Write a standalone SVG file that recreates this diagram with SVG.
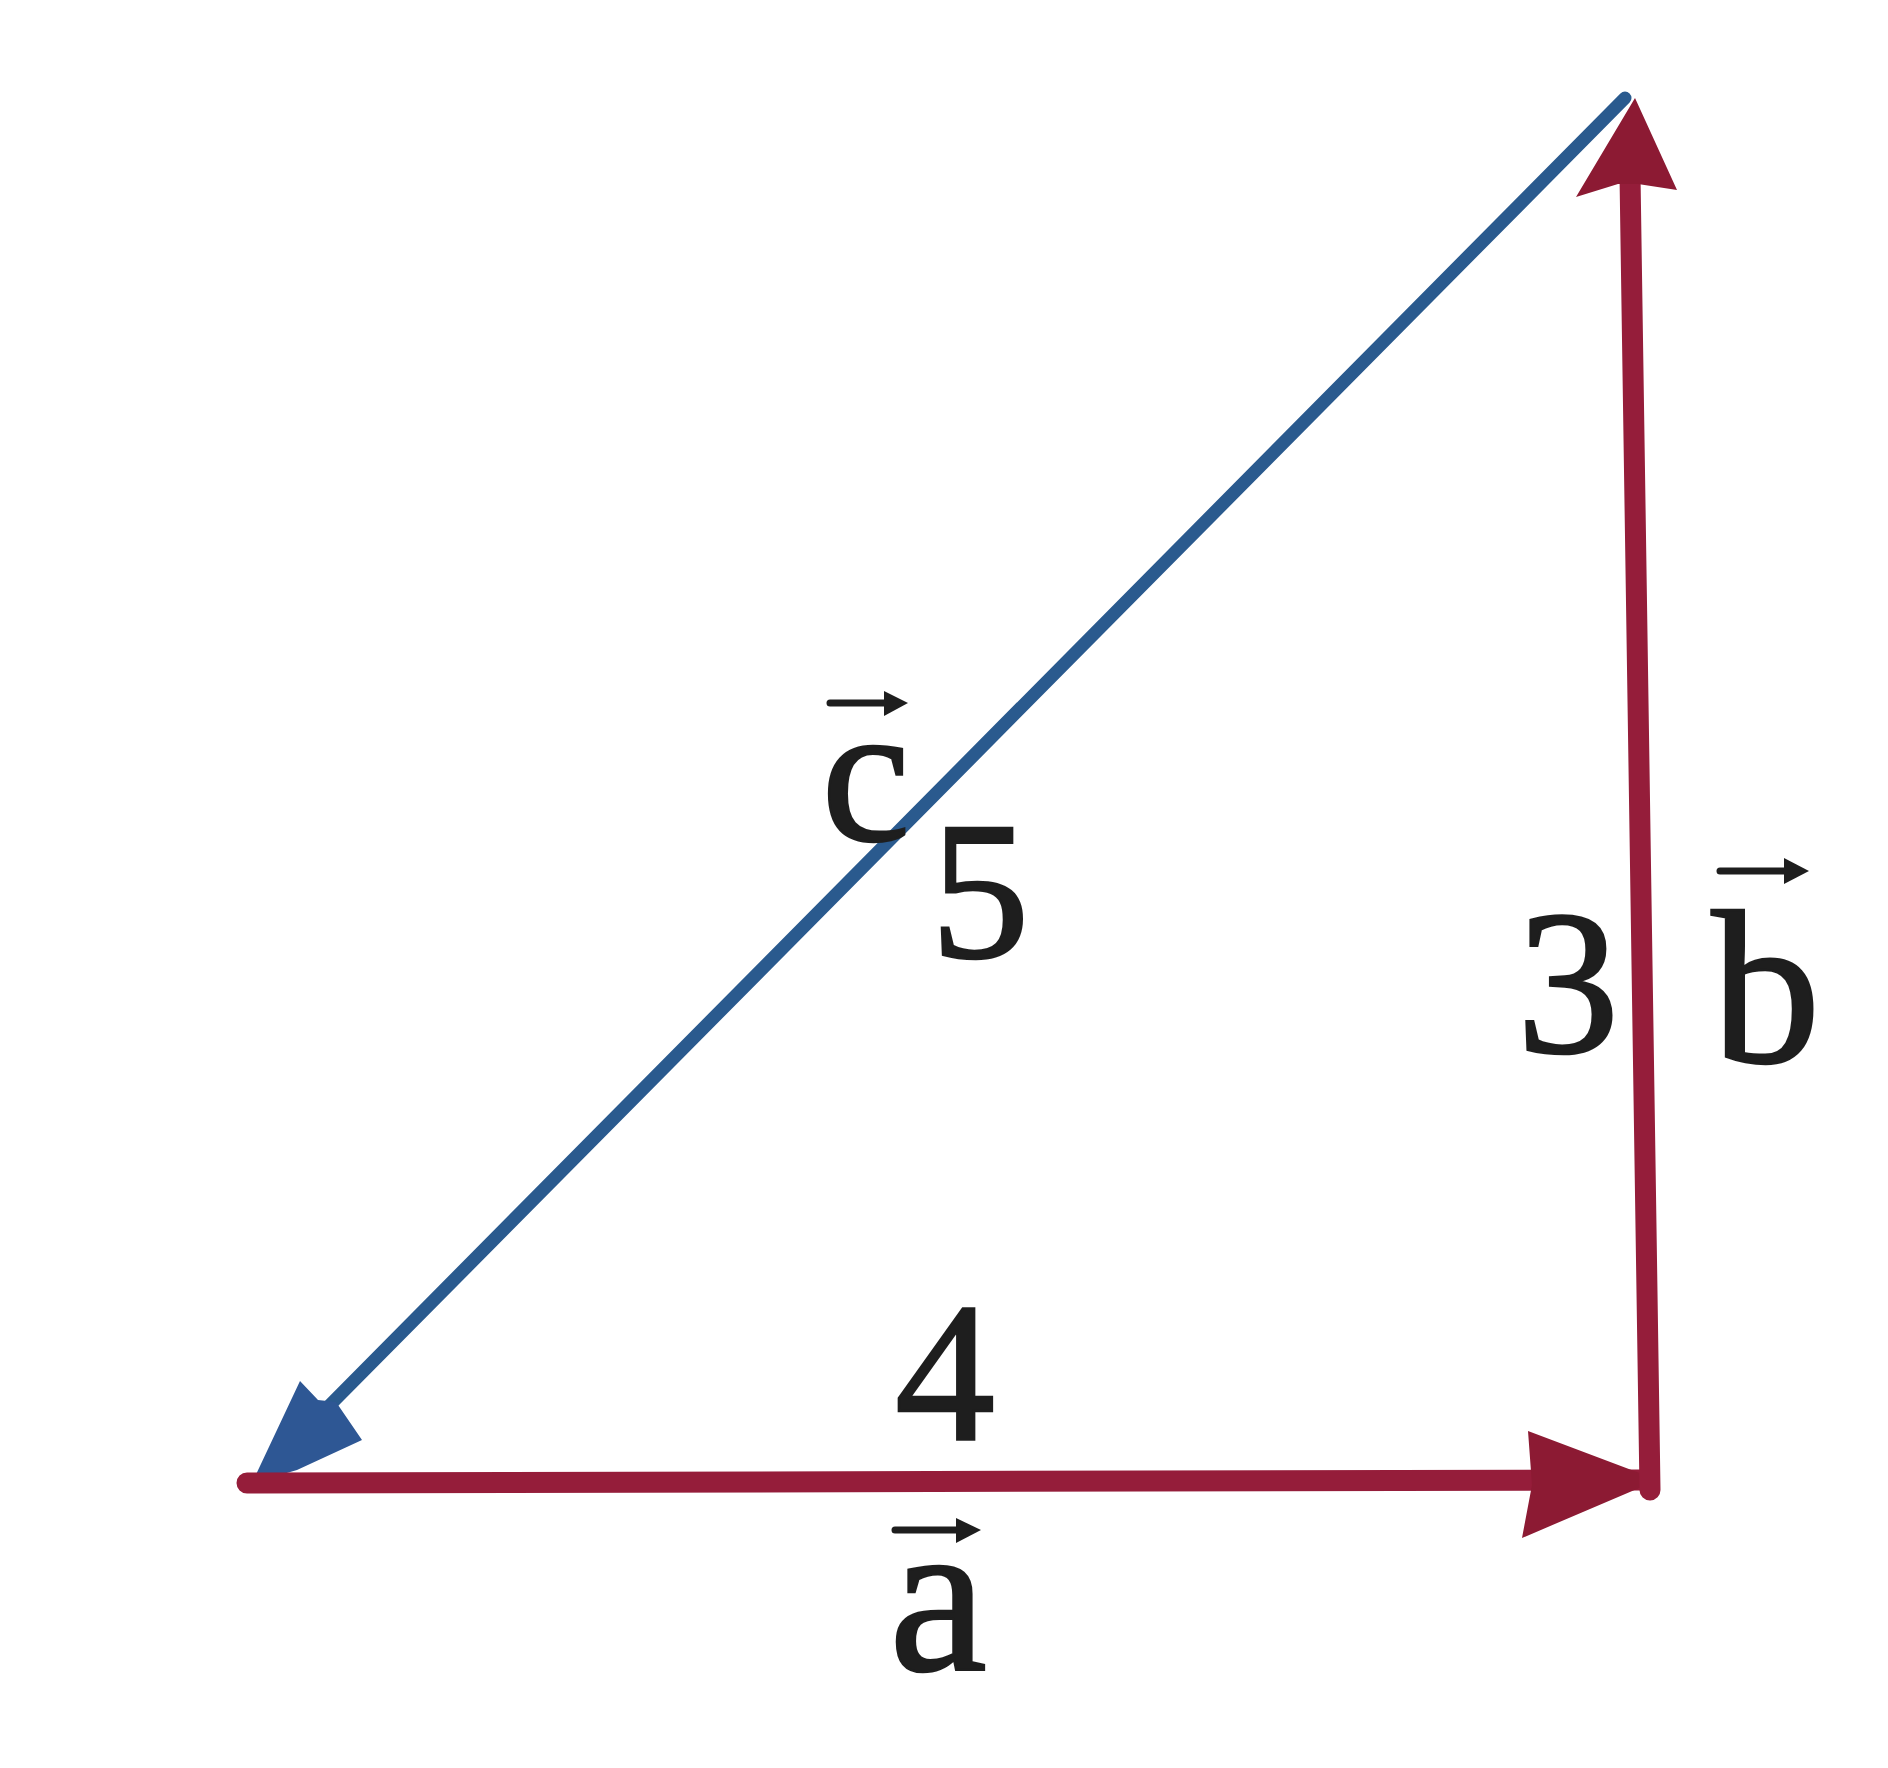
<svg xmlns="http://www.w3.org/2000/svg" width="1888" height="1768" viewBox="0 0 1888 1768">
<style>
.red{stroke:#951d3a;stroke-width:21;stroke-linecap:round;fill:none}
.blue{stroke:#2a5a8e;stroke-width:13;stroke-linecap:round;fill:none}
.redhead{fill:#8c1a33}
.bluehead{fill:#2e5794}
.lbl{font-family:"Liberation Serif","Times New Roman",serif;fill:#1e1e1e;stroke:#1e1e1e;stroke-width:2.5;text-anchor:middle}
.vec{stroke:#1e1e1e;stroke-width:7;fill:none;stroke-linecap:round}
.vech{fill:#1e1e1e}
</style>
<rect width="1888" height="1768" fill="#ffffff"/>
<g id="connectors">
  <g id="vector-c">
    <line class="blue" x1="1625" y1="98" x2="325" y2="1410"/>
    <polygon class="bluehead" points="252,1483 300,1381 318,1400 336,1402 362,1440 297,1470"/>
  </g>
  <g id="vector-a">
    <line class="red" x1="247" y1="1483" x2="1640" y2="1480"/>
    <polygon class="redhead" points="1528,1431 1658,1480 1522,1538 1532,1485"/>
  </g>
  <g id="vector-b">
    <line class="red" x1="1630" y1="175" x2="1650" y2="1490"/>
    <polygon class="redhead" points="1635,98 1677,190 1638,184 1618,184 1576,197"/>
  </g>
</g>
<g id="labels">
  <g id="label-c">
    <text class="lbl" x="866" y="840" font-size="200">c</text>
    <line class="vec" x1="830" y1="703" x2="890" y2="703"/>
    <polygon class="vech" points="884,691 908,703 884,716"/>
  </g>
  <g id="label-5"><text class="lbl" x="980" y="957" font-size="198">5</text></g>
  <g id="label-3"><text class="lbl" x="1568" y="1052" font-size="205">3</text></g>
  <g id="label-b">
    <text class="lbl" x="1766" y="1062" font-size="218">b</text>
    <line class="vec" x1="1720" y1="871" x2="1790" y2="871"/>
    <polygon class="vech" points="1784,858 1809,871 1784,884"/>
  </g>
  <g id="label-4"><text class="lbl" x="945" y="1440" font-size="200">4</text></g>
  <g id="label-a">
    <text class="lbl" x="938" y="1670" font-size="220">a</text>
    <line class="vec" x1="895" y1="1530" x2="962" y2="1530"/>
    <polygon class="vech" points="956,1518 981,1530 956,1543"/>
  </g>
</g>
</svg>
